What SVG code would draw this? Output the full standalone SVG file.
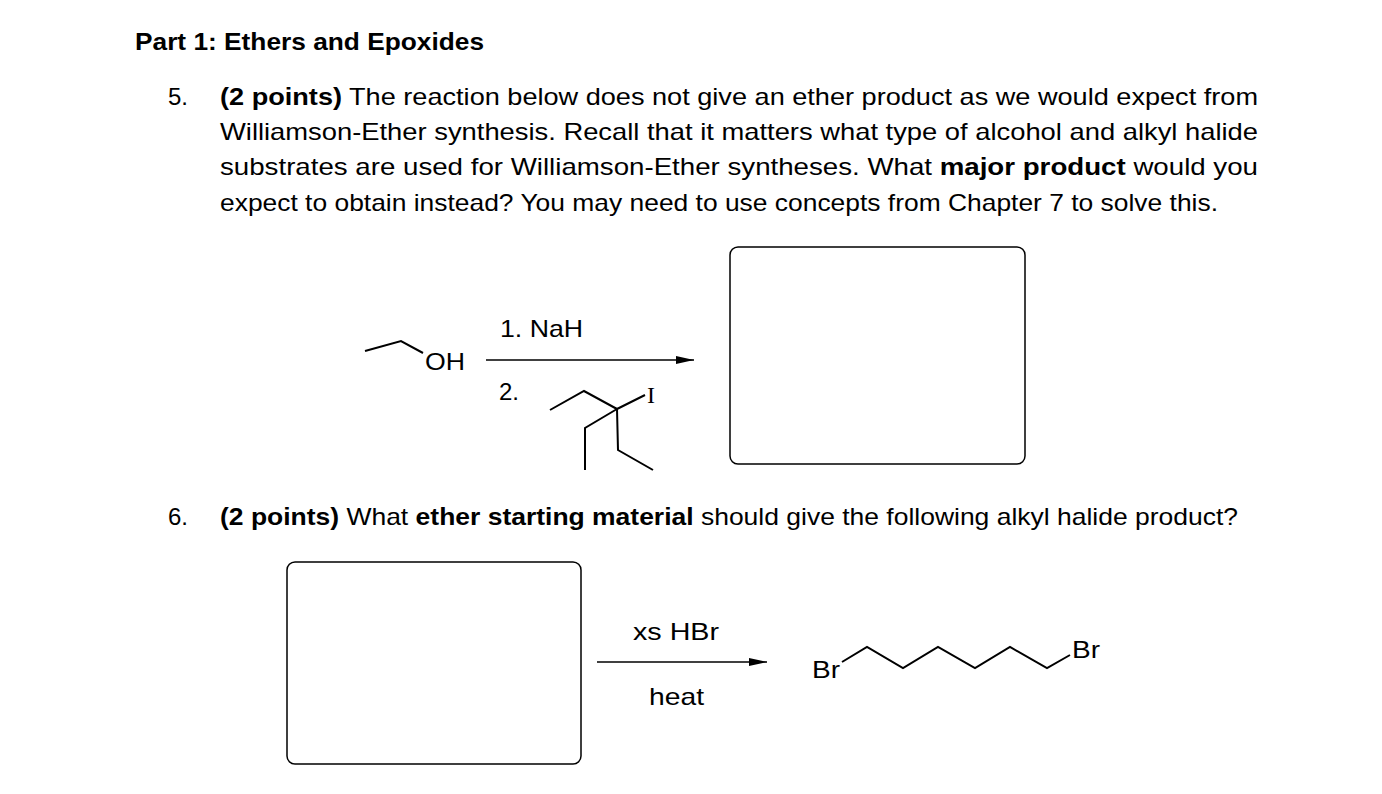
<svg xmlns="http://www.w3.org/2000/svg" width="1382" height="794" viewBox="0 0 1382 794">
<style>
text{font-family:"Liberation Sans",Arial,sans-serif;font-size:24px;fill:#000}
.b{font-weight:bold}
.bond{fill:none;stroke:#000;stroke-width:2}
.arrow{stroke:#000;stroke-width:1.5}
.box{fill:#fff;stroke:#000;stroke-width:1.5}
</style>
<defs><marker id="ah" markerWidth="18" markerHeight="8" refX="18" refY="4" orient="auto" markerUnits="userSpaceOnUse"><path d="M0,0 L18,4 L0,8 Z"/></marker></defs>
<rect width="1382" height="794" fill="#fff"/>
<text class="b" x="135" y="50" textLength="349" lengthAdjust="spacingAndGlyphs">Part 1: Ethers and Epoxides</text>
<text x="168" y="105">5.</text>
<text x="220" y="105" textLength="1038" lengthAdjust="spacingAndGlyphs"><tspan class="b">(2 points)</tspan> The reaction below does not give an ether product as we would expect from</text>
<text x="220" y="140" textLength="1038" lengthAdjust="spacingAndGlyphs">Williamson-Ether synthesis. Recall that it matters what type of alcohol and alkyl halide</text>
<text x="220" y="175" textLength="1038" lengthAdjust="spacingAndGlyphs">substrates are used for Williamson-Ether syntheses. What <tspan class="b">major product</tspan> would you</text>
<text x="220" y="211" textLength="998" lengthAdjust="spacingAndGlyphs">expect to obtain instead? You may need to use concepts from Chapter 7 to solve this.</text>
<g id="ethanol"><polyline class="bond" points="365,351 401,341 423,353"/><text x="425" y="370" textLength="40" lengthAdjust="spacingAndGlyphs">OH</text></g>
<g id="alkyliodide"><polyline class="bond" points="550,410 584,391 617,409 645,395"/><polyline class="bond" points="617,409 585,428 585,470"/><polyline class="bond" points="617,409 618,450 653,470"/><text x="647" y="403" style="font-family:'Liberation Serif',serif">I</text></g>
<g id="reagents1"><text x="500" y="337" textLength="83" lengthAdjust="spacingAndGlyphs">1. NaH</text><text x="499" y="400">2.</text></g>
<g id="box1"><rect class="box" x="730" y="247" width="295" height="217" rx="8"/></g>
<text x="168" y="525">6.</text>
<text x="220" y="525" textLength="1018" lengthAdjust="spacingAndGlyphs"><tspan class="b">(2 points)</tspan> What <tspan class="b">ether starting material</tspan> should give the following alkyl halide product?</text>
<g id="box2"><rect class="box" x="287" y="562" width="294" height="202" rx="8"/></g>
<g id="reagents2"><text x="633" y="640" textLength="86" lengthAdjust="spacingAndGlyphs">xs HBr</text><text x="649" y="705" textLength="55" lengthAdjust="spacingAndGlyphs">heat</text></g>
<g id="dibromide"><text x="812" y="678" textLength="28" lengthAdjust="spacingAndGlyphs">Br</text><polyline class="bond" points="842,662 867,647 903,668 938,647 975,668 1010,647 1047,668 1070,655"/><text x="1072" y="658" textLength="28" lengthAdjust="spacingAndGlyphs">Br</text></g>
<g id="connectors"><line class="arrow" x1="486" y1="360" x2="694" y2="360" marker-end="url(#ah)"/><line class="arrow" x1="597" y1="662" x2="767" y2="662" marker-end="url(#ah)"/></g>
</svg>
